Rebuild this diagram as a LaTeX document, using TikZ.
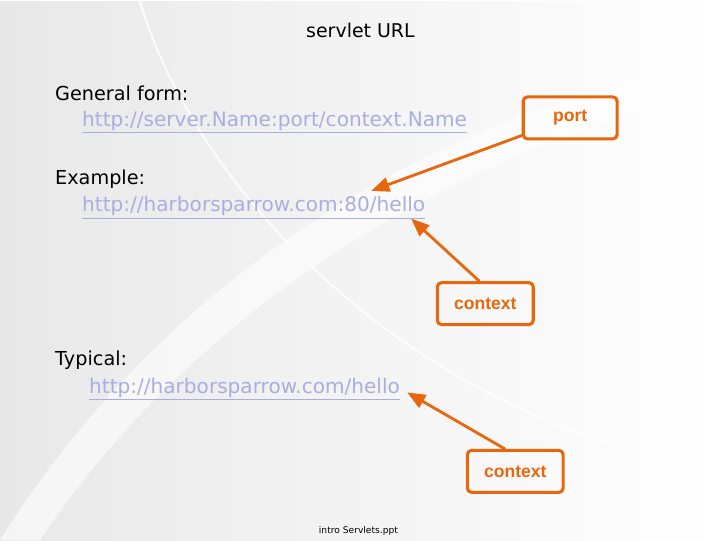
\documentclass[tikz,border=0pt]{standalone}
\usepackage{fontspec}
\setmainfont{DejaVu Sans}
\newfontfamily\boxfont{Liberation Sans}
\usetikzlibrary{arrows, calc, positioning}
\definecolor{slideorange}{HTML}{E8670C}
\definecolor{linkblue}{HTML}{A9AEE0}

\begin{document}
\begin{tikzpicture}[line cap=round,line join=round,>=triangle 45,x=0.025cm,y=-0.025cm,
  label box/.style={draw=slideorange, line width=2.2pt, rounded corners=3pt, text=slideorange,
    font=\boxfont\bfseries\fontsize{12.5}{14}\selectfont, minimum width=2.4cm, minimum height=1.05cm},
  body text/.style={anchor=west, font=\fontsize{13.7}{15}\selectfont, inner sep=0pt},
  link text/.style={body text, text=linkblue, font=\fontsize{14.3}{16}\selectfont},
  pointer/.style={->, draw=slideorange, line width=2pt}]
% --- background ---
\shade [left color=gray!18, right color=white] (0,0) rectangle (720,540);
\fill [white, opacity=0.6] (0,540) .. controls (150,300) and (400,120) .. (720,60) -- (720,90) .. controls (420,160) and (180,330) .. (40,540) -- cycle;
\draw [white, line width=1.5pt, opacity=0.8] (140,0) .. controls (200,200) and (420,420) .. (720,470);
\useasboundingbox (0,0) rectangle (720,540);

% --- title and texts ---
\node (title) [font=\fontsize{13.5}{15}\selectfont] at (361,29) {servlet URL};
\node (general) [body text] at (55,92) {General form:};
\node (generalurl) [link text] at (82,121) {\underline{http://server.Name:port/context.Name}};
\node (example) [body text] at (55,178) {Example:};
\node (exampleurl) [link text] at (82,207) {\underline{http://harborsparrow.com:80/hello}};
\node (typical) [body text] at (55,360) {Typical:};
\node (typicalurl) [link text] at (89,389) {\underline{http://harborsparrow.com/hello}};
\node (footer) [font=\fontsize{6.5}{8}\selectfont] at (359,531) {intro Servlets.ppt};

% --- boxes ---
\node (port) [label box, minimum width=2.35cm] at (571,117) {port};
\node (context) [label box] at (486,303) {context};
\node (contexttwo) [label box] at (516,471) {context};

% --- arrow tips ---
\coordinate (porttip) at (372,190);
\coordinate (contexttip) at (412,218);
\coordinate (contexttwotip) at (408,392);

\draw [pointer] (port.200) -- (porttip);
\draw [pointer] (context.105) -- (contexttip);
\draw [pointer] (contexttwo.115) -- (contexttwotip);
\end{tikzpicture}
\end{document}
